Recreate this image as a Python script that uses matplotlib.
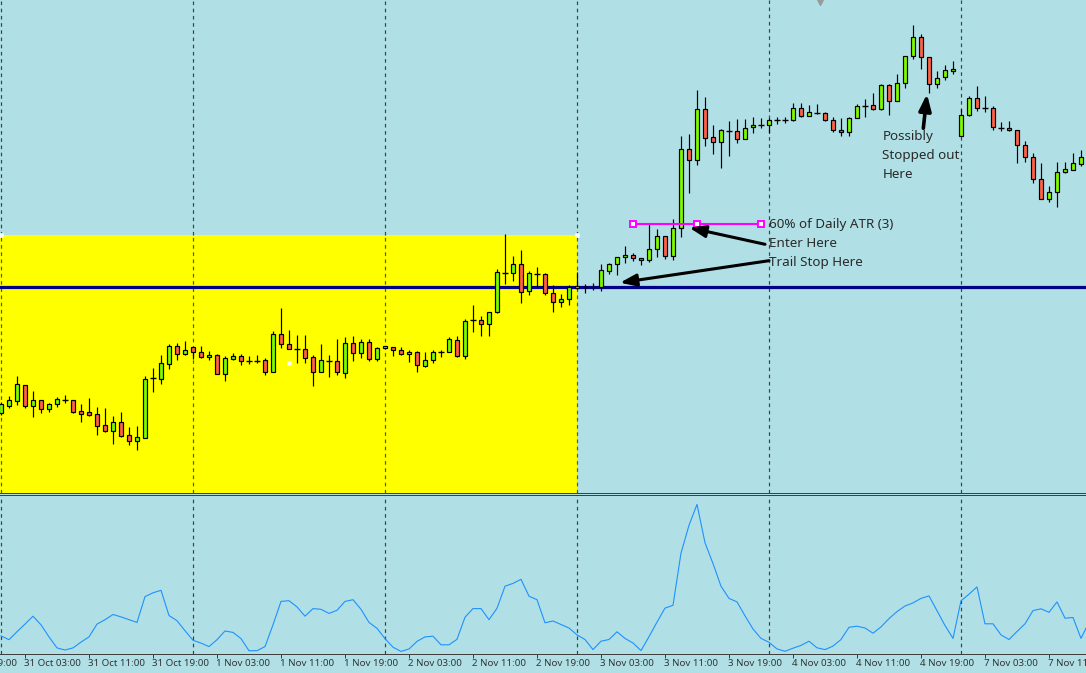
import matplotlib
matplotlib.use("Agg")
import matplotlib.pyplot as plt
from matplotlib.patches import Rectangle
from matplotlib.transforms import blended_transform_factory

# ------------------------------------------------------------------ data
# hourly bars, bar 0 = 31 Oct 00:00 ; bar 120 = 7 Nov 00:00
opens = [1.0874, 1.0881, 1.0886, 1.0902, 1.0881, 1.0887, 1.0878, 1.0883, 1.0887, 1.0887,
         1.0876, 1.0875, 1.0873, 1.0862, 1.0856, 1.0865, 1.0852, 1.0846, 1.0849, 1.0909,
         1.0908, 1.0923, 1.0941, 1.0933, 1.0940, 1.0935, 1.0930, 1.0932, 1.0913, 1.0928,
         1.0931, 1.0926, 1.0926, 1.0927, 1.0915, 1.0953, 1.0943, 1.0938, 1.0938, 1.0930,
         1.0915, 1.0926, 1.0926, 1.0914, 1.0944, 1.0934, 1.0945, 1.0928, 1.0939, 1.0940,
         1.0937, 1.0933, 1.0935, 1.0921, 1.0927, 1.0935, 1.0935, 1.0947, 1.0931, 1.0967,
         1.0967, 1.0963, 1.0975, 1.1014, 1.1014, 1.1023, 1.0996, 1.1013, 1.1013, 1.0994,
         1.0985, 1.0988, 1.0999, 1.1000, 1.1000, 1.1000, 1.1016, 1.1023, 1.1030, 1.1032,
         1.1029, 1.1027, 1.1038, 1.1051, 1.1031, 1.1059, 1.1138, 1.1127, 1.1178, 1.1150,
         1.1145, 1.1156, 1.1156, 1.1148, 1.1160, 1.1162, 1.1162, 1.1167, 1.1167, 1.1167,
         1.1179, 1.1171, 1.1174, 1.1174, 1.1167, 1.1157, 1.1155, 1.1169, 1.1181, 1.1182,
         1.1178, 1.1202, 1.1186, 1.1204, 1.1231, 1.1250, 1.1230, 1.1203, 1.1210, 1.1216,
         1.1151, 1.1172, 1.1189, 1.1179, 1.1179, 1.1159, 1.1159, 1.1157, 1.1142, 1.1130,
         1.1108, 1.1088, 1.1095, 1.1115, 1.1117, 1.1123]
highs = [1.0885, 1.0891, 1.0911, 1.0902, 1.0896, 1.0887, 1.0884, 1.0890, 1.0892, 1.0887,
         1.0883, 1.0889, 1.0880, 1.0879, 1.0871, 1.0875, 1.0860, 1.0861, 1.0911, 1.0919,
         1.0932, 1.0943, 1.0944, 1.0946, 1.0940, 1.0941, 1.0936, 1.0933, 1.0931, 1.0934,
         1.0933, 1.0931, 1.0932, 1.0929, 1.0956, 1.0979, 1.0957, 1.0952, 1.0952, 1.0932,
         1.0943, 1.0932, 1.0948, 1.0950, 1.0951, 1.0948, 1.0948, 1.0940, 1.0941, 1.0940,
         1.0940, 1.0937, 1.0936, 1.0935, 1.0937, 1.0937, 1.0950, 1.0951, 1.0968, 1.0982,
         1.0971, 1.0975, 1.1018, 1.1053, 1.1031, 1.1037, 1.1016, 1.1020, 1.1014, 1.1002,
         1.0993, 1.1002, 1.1015, 1.1003, 1.1004, 1.1023, 1.1024, 1.1030, 1.1041, 1.1034,
         1.1029, 1.1064, 1.1058, 1.1051, 1.1068, 1.1151, 1.1153, 1.1197, 1.1190, 1.1162,
         1.1158, 1.1166, 1.1168, 1.1168, 1.1170, 1.1169, 1.1169, 1.1170, 1.1170, 1.1184,
         1.1184, 1.1182, 1.1183, 1.1175, 1.1170, 1.1169, 1.1170, 1.1183, 1.1188, 1.1194,
         1.1203, 1.1203, 1.1213, 1.1231, 1.1262, 1.1253, 1.1230, 1.1216, 1.1222, 1.1226,
         1.1178, 1.1191, 1.1201, 1.1191, 1.1181, 1.1165, 1.1166, 1.1157, 1.1146, 1.1134,
         1.1124, 1.1101, 1.1125, 1.1125, 1.1134, 1.1137]
lows = [1.0872, 1.0879, 1.0882, 1.0879, 1.0870, 1.0874, 1.0875, 1.0880, 1.0884, 1.0874,
        1.0865, 1.0871, 1.0852, 1.0855, 1.0843, 1.0850, 1.0842, 1.0837, 1.0849, 1.0895,
        1.0903, 1.0918, 1.0927, 1.0932, 1.0928, 1.0929, 1.0927, 1.0913, 1.0906, 1.0927,
        1.0922, 1.0923, 1.0924, 1.0912, 1.0915, 1.0939, 1.0938, 1.0924, 1.0924, 1.0901,
        1.0915, 1.0910, 1.0912, 1.0909, 1.0926, 1.0929, 1.0926, 1.0926, 1.0938, 1.0931,
        1.0932, 1.0925, 1.0915, 1.0920, 1.0924, 1.0930, 1.0935, 1.0930, 1.0928, 1.0955,
        1.0951, 1.0951, 1.0974, 1.1003, 1.1006, 1.0984, 1.0992, 1.1000, 1.0992, 1.0975,
        1.0980, 1.0982, 1.0998, 1.0994, 1.0997, 1.0996, 1.1013, 1.1012, 1.1024, 1.1026,
        1.1022, 1.1025, 1.1030, 1.1028, 1.1027, 1.1050, 1.1094, 1.1122, 1.1141, 1.1133,
        1.1119, 1.1131, 1.1144, 1.1148, 1.1154, 1.1159, 1.1154, 1.1163, 1.1164, 1.1166,
        1.1170, 1.1171, 1.1173, 1.1166, 1.1155, 1.1151, 1.1151, 1.1169, 1.1170, 1.1177,
        1.1177, 1.1172, 1.1186, 1.1199, 1.1228, 1.1218, 1.1194, 1.1199, 1.1207, 1.1213,
        1.1151, 1.1171, 1.1176, 1.1175, 1.1157, 1.1156, 1.1156, 1.1124, 1.1125, 1.1104,
        1.1088, 1.1085, 1.1080, 1.1114, 1.1117, 1.1121]
closes = [1.0883, 1.0887, 1.0903, 1.0881, 1.0887, 1.0878, 1.0883, 1.0888, 1.0887, 1.0875,
          1.0873, 1.0872, 1.0861, 1.0856, 1.0865, 1.0851, 1.0846, 1.0850, 1.0908, 1.0909,
          1.0924, 1.0941, 1.0933, 1.0937, 1.0935, 1.0930, 1.0932, 1.0913, 1.0929, 1.0931,
          1.0926, 1.0926, 1.0926, 1.0915, 1.0953, 1.0943, 1.0938, 1.0938, 1.0929, 1.0915,
          1.0927, 1.0926, 1.0915, 1.0944, 1.0934, 1.0945, 1.0928, 1.0939, 1.0941, 1.0937,
          1.0933, 1.0935, 1.0922, 1.0927, 1.0935, 1.0935, 1.0948, 1.0931, 1.0966, 1.0967,
          1.0963, 1.0975, 1.1015, 1.1014, 1.1023, 1.0995, 1.1014, 1.1013, 1.0994, 1.0985,
          1.0988, 1.1000, 1.1001, 1.1000, 1.1000, 1.1017, 1.1023, 1.1030, 1.1032, 1.1029,
          1.1027, 1.1038, 1.1051, 1.1031, 1.1059, 1.1138, 1.1127, 1.1178, 1.1149, 1.1145,
          1.1157, 1.1156, 1.1148, 1.1159, 1.1162, 1.1162, 1.1167, 1.1167, 1.1167, 1.1179,
          1.1171, 1.1175, 1.1174, 1.1167, 1.1157, 1.1155, 1.1169, 1.1181, 1.1181, 1.1178,
          1.1202, 1.1186, 1.1204, 1.1231, 1.1250, 1.1230, 1.1203, 1.1209, 1.1217, 1.1218,
          1.1172, 1.1189, 1.1179, 1.1179, 1.1160, 1.1159, 1.1157, 1.1142, 1.1130, 1.1108,
          1.1088, 1.1095, 1.1115, 1.1118, 1.1124, 1.1130]
# lower pane: TR(3) style volatility line (pips)
tr3 = [1.81, 1.43, 2.23, 2.99, 3.78, 2.92, 1.71, 0.61, 0.40, 0.61,
       1.19, 1.71, 2.99, 3.43, 3.95, 3.71, 3.43, 3.16, 5.74, 6.12,
       6.37, 3.85, 3.33, 2.33, 1.37, 1.09, 0.74, 1.43, 2.30, 2.16,
       1.54, 0.33, 0.33, 0.74, 2.92, 5.26, 5.33, 4.71, 3.78, 4.54,
       4.47, 4.06, 4.37, 5.26, 5.43, 4.47, 3.16, 2.57, 1.54, 0.68,
       0.26, 0.50, 1.26, 1.71, 1.78, 0.92, 0.92, 1.47, 3.68, 4.54,
       4.54, 3.43, 4.57, 6.78, 7.06, 7.47, 5.78, 5.43, 3.12, 3.30,
       2.95, 2.60, 1.91, 1.45, 0.44, 1.28, 1.45, 2.22, 1.56, 1.10,
       0.34, 1.73, 3.19, 4.59, 4.87, 10.09, 12.87, 14.96, 11.13, 9.04,
       6.78, 5.56, 5.21, 3.82, 2.50, 1.56, 1.17, 0.51, 0.27, 0.58,
       0.86, 1.28, 0.62, 0.44, 0.79, 1.45, 2.67, 2.78, 2.60, 2.08,
       2.71, 3.54, 4.24, 4.80, 5.11, 5.56, 5.81, 4.34, 2.85, 1.56,
       5.32, 5.98, 6.71, 3.02, 3.02, 1.91, 1.45, 2.25, 3.02, 4.34,
       4.52, 4.17, 5.21, 3.58, 3.65, 1.56, 3.19]
tick_labels = ["30 Oct 19:00", "31 Oct 03:00", "31 Oct 11:00", "31 Oct 19:00",
               "1 Nov 03:00", "1 Nov 11:00", "1 Nov 19:00", "2 Nov 03:00",
               "2 Nov 11:00", "2 Nov 19:00", "3 Nov 03:00", "3 Nov 11:00",
               "3 Nov 19:00", "4 Nov 03:00", "4 Nov 11:00", "4 Nov 19:00",
               "7 Nov 03:00", "7 Nov 11:00"]
first_tick_bar = -5          # bar of "30 Oct 19:00"
tick_step = 8
day_separators = [0, 24, 48, 72, 96, 120]
zone_start, zone_end = 0, 72
zone_top, zone_bottom = 1.1052, 1.0796
trail_level = 1.1000
atr_level = 1.1063
atr_start, atr_mid, atr_end = 79, 87, 95

# ------------------------------------------------------------------ style
BG = "#B0E0E6"
BULL = "#7CFC00"
BEAR = "#FF6347"
GRID = "#404040"
W, H = 1086, 673
PX = 72.0 / 100.0            # points per pixel
FONT = ["Noto Sans", "DejaVu Sans"]

fig = plt.figure(figsize=(W / 100, H / 100), dpi=100, facecolor=BG)
ax = fig.add_axes([0, (H - 492.5) / H, 1, 492.5 / H])
ax2 = fig.add_axes([0, (H - 654) / H, 1, (654 - 494.5) / H])

x_left, x_right = (0 - 1) / 8, (W - 1) / 8
for a in (ax, ax2):
    a.set_facecolor(BG)
    a.set_xlim(x_left, x_right)
    for s in a.spines.values():
        s.set_visible(False)
    a.set_yticks([])
ax.set_ylim(1.1287 - 0.04925, 1.1287)
ax2.set_ylim(0, 15.95)

ax.spines["bottom"].set_visible(True)
ax.spines["bottom"].set_color(GRID)
ax.spines["bottom"].set_linewidth(PX)
ax.set_xticks([])
for side in ("top", "bottom"):
    ax2.spines[side].set_visible(True)
    ax2.spines[side].set_color(GRID)
    ax2.spines[side].set_linewidth(PX)

# yellow zone
ax.add_patch(Rectangle((x_left, zone_bottom - 0.0005), zone_end - x_left,
                       zone_top - zone_bottom + 0.0005, facecolor="#FFFF00",
                       edgecolor="none", zorder=0.5))

# day separators
for b in day_separators:
    if zone_start <= b <= zone_end:
        ax.plot([b, b], [ax.get_ylim()[0], zone_top], color="#2C5A96", lw=PX * 1.2,
                ls=(0, (3, 3)), zorder=1)
        ax.plot([b, b], [zone_top, ax.get_ylim()[1]], color=GRID, lw=PX * 1.2,
                ls=(0, (3, 3)), zorder=1)
    else:
        ax.axvline(b, color=GRID, lw=PX * 1.2, ls=(0, (3, 3)), zorder=1)
    ax2.axvline(b, color=GRID, lw=PX * 1.2, ls=(0, (3, 3)), zorder=1)

# trail stop level
ax.axhline(trail_level, color="#00008B", lw=2.3, zorder=2)

# candles
bw = 0.6
for i, (o, h, l, c) in enumerate(zip(opens, highs, lows, closes)):
    ax.plot([i, i], [l, h], color="black", lw=PX * 1.2, zorder=3,
            solid_capstyle="butt")
    if abs(c - o) < 1e-9:
        ax.plot([i - bw / 2 - 0.03, i + bw / 2 + 0.03], [o, o], color="black",
                lw=1.0, zorder=4, solid_capstyle="butt")
    else:
        ax.add_patch(Rectangle((i - bw / 2, min(o, c)), bw, abs(c - o),
                               facecolor=BULL if c > o else BEAR,
                               edgecolor="black", lw=PX * 1.2, zorder=4))

# rectangle anchors
ax.plot([zone_start, zone_end, (zone_start + zone_end) / 2],
        [zone_top, zone_top, (zone_top + zone_bottom) / 2], "s", ms=3,
        mfc="white", mec="#F4F4F4", mew=0.5, zorder=6, clip_on=False)

# ATR line
ax.plot([atr_start, atr_end], [atr_level, atr_level], color="#FF00FF", lw=1.5,
        zorder=5)
ax.plot([atr_start, atr_mid, atr_end], [atr_level] * 3, "s", ms=4.2, mfc="white",
        mec="#FF00FF", mew=1.4, zorder=6)

# annotations
tkw = dict(fontsize=9.7, color="#2A2A2A", family=FONT, ha="left", va="baseline",
           zorder=7)
ax.text(96, 1.1059, "60% of Daily ATR (3)", **tkw)
ax.text(96, 1.10403, "Enter Here", **tkw)
ax.text(96, 1.1021, "Trail Stop Here", **tkw)
ax.text(110.16, 1.1147, "Possibly", **tkw)
ax.text(110.16, 1.1128, "Stopped out", **tkw)
ax.text(110.16, 1.11093, "Here", **tkw)

akw = dict(arrowstyle="-|>,head_length=0.75,head_width=0.28", color="black",
           lw=2.2, shrinkA=0, shrinkB=0, mutation_scale=13)
ax.annotate("", xy=(86.04, 1.10593), xytext=(95.5, 1.10427), arrowprops=akw,
            zorder=7)
ax.annotate("", xy=(77.375, 1.10043), xytext=(96.0, 1.10263), arrowprops=akw,
            zorder=7)
ax.annotate("", xy=(115.75, 1.1193), xytext=(115.29, 1.11587),
            arrowprops=dict(akw, lw=2.6), zorder=7)

# chart shift marker at top
ax.plot([820 / W], [1 - 2 / 492.5], "v", ms=5, color="#9A9A9A",
        transform=ax.transAxes, clip_on=False, zorder=8)

# lower pane line
ax2.plot(range(len(tr3)), tr3, color="#1E90FF", lw=PX * 1.1, zorder=3)

# time axis
tick_bars = [first_tick_bar + tick_step * k for k in range(len(tick_labels))]
ax2.set_xticks([t for t in tick_bars if x_left <= t <= x_right])
ax2.set_xticklabels([])
ax2.tick_params(axis="x", direction="out", length=4 * PX, width=PX, color=GRID)
tr = blended_transform_factory(ax2.transData, fig.transFigure)
for t, lab in zip(tick_bars, tick_labels):
    ax2.text(t - 0.1, (H - 666.5) / H, lab, transform=tr, fontsize=7.0,
             color="#333333", family=FONT, ha="left", va="baseline",
             clip_on=False)

fig.savefig("out.png", dpi=100, facecolor=BG)
